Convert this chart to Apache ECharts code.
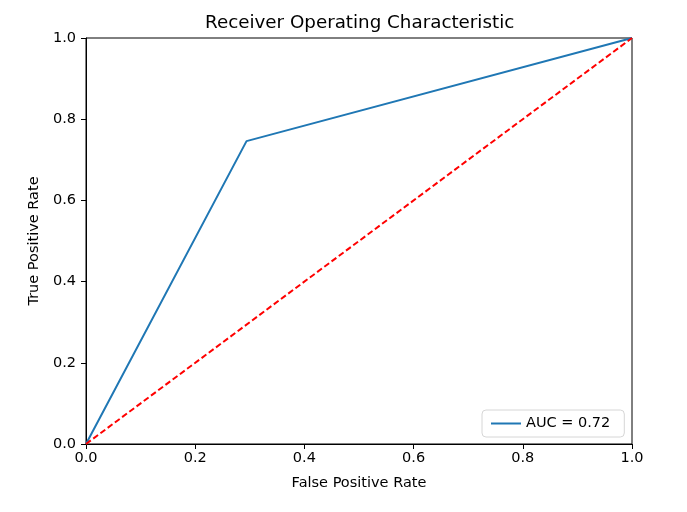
<!DOCTYPE html>
<html>
<head>
<meta charset="utf-8">
<script src="https://cdn.jsdelivr.net/npm/echarts@6/dist/echarts.min.js"></script>
<style>html,body{margin:0;padding:0;background:#fff}#c{width:687px;height:512px}</style>
</head>
<body>
<div id="c"></div>
<script>
const fpr = [0, 0.294, 1];
const tpr = [0, 0.746, 1];
const chanceX = [0, 1];
const chanceY = [0, 1];
const aucLabel = 'AUC = 0.72';

const chart = echarts.init(document.getElementById('c'), null, {renderer: 'canvas'});
const font = 'DejaVu Sans';
const axisCommon = {
  type: 'value', min: 0, max: 1, interval: 0.2,
  axisLine: {show: true, lineStyle: {color: '#000', width: 1}},
  axisTick: {show: true, inside: false, length: 5, lineStyle: {color: '#000'}},
  axisLabel: {color: '#000', fontFamily: font, fontSize: 14.5, formatter: v => v.toFixed(1)},
  splitLine: {show: false},
  nameLocation: 'middle',
  nameTextStyle: {color: '#000', fontFamily: font, fontSize: 14.5}
};
chart.setOption({
  animation: false,
  title: {text: 'Receiver Operating Characteristic', left: 200, top: 9,
    textStyle: {color: '#000', fontFamily: font, fontSize: 18.3, fontWeight: 'normal'}},
  grid: {left: 86, right: 55, top: 38, bottom: 68, show: true, borderColor: '#000', borderWidth: 1, backgroundColor: 'transparent'},
  xAxis: Object.assign({}, axisCommon, {name: 'False Positive Rate', nameGap: 32,
    axisLabel: Object.assign({}, axisCommon.axisLabel, {margin: 7})}),
  yAxis: Object.assign({}, axisCommon, {name: 'True Positive Rate', nameGap: 41,
    axisLabel: Object.assign({}, axisCommon.axisLabel, {margin: 10})}),
  legend: {
    data: [aucLabel], left: 482, top: 410, orient: 'horizontal',
    backgroundColor: '#fff', borderColor: '#d6d6d6', borderWidth: 1, borderRadius: 4,
    padding: [6, 14, 6, 8], itemWidth: 30, itemHeight: 10, itemGap: 5,
    itemStyle: {color: 'transparent', borderColor: 'transparent', borderWidth: 0},
    textStyle: {color: '#000', fontFamily: font, fontSize: 14.5}
  },
  series: [
    {name: aucLabel, type: 'line', data: fpr.map((x, i) => [x, tpr[i]]), showSymbol: false, symbol: 'none',
      lineStyle: {color: '#1f77b4', width: 2}, itemStyle: {color: '#1f77b4'}},
    {name: 'chance', type: 'line', data: chanceX.map((x, i) => [x, chanceY[i]]), showSymbol: false, symbol: 'none',
      lineStyle: {color: '#ff0000', width: 2, type: [6, 3]}, itemStyle: {color: '#ff0000'}}
  ]
});
</script>
</body>
</html>
